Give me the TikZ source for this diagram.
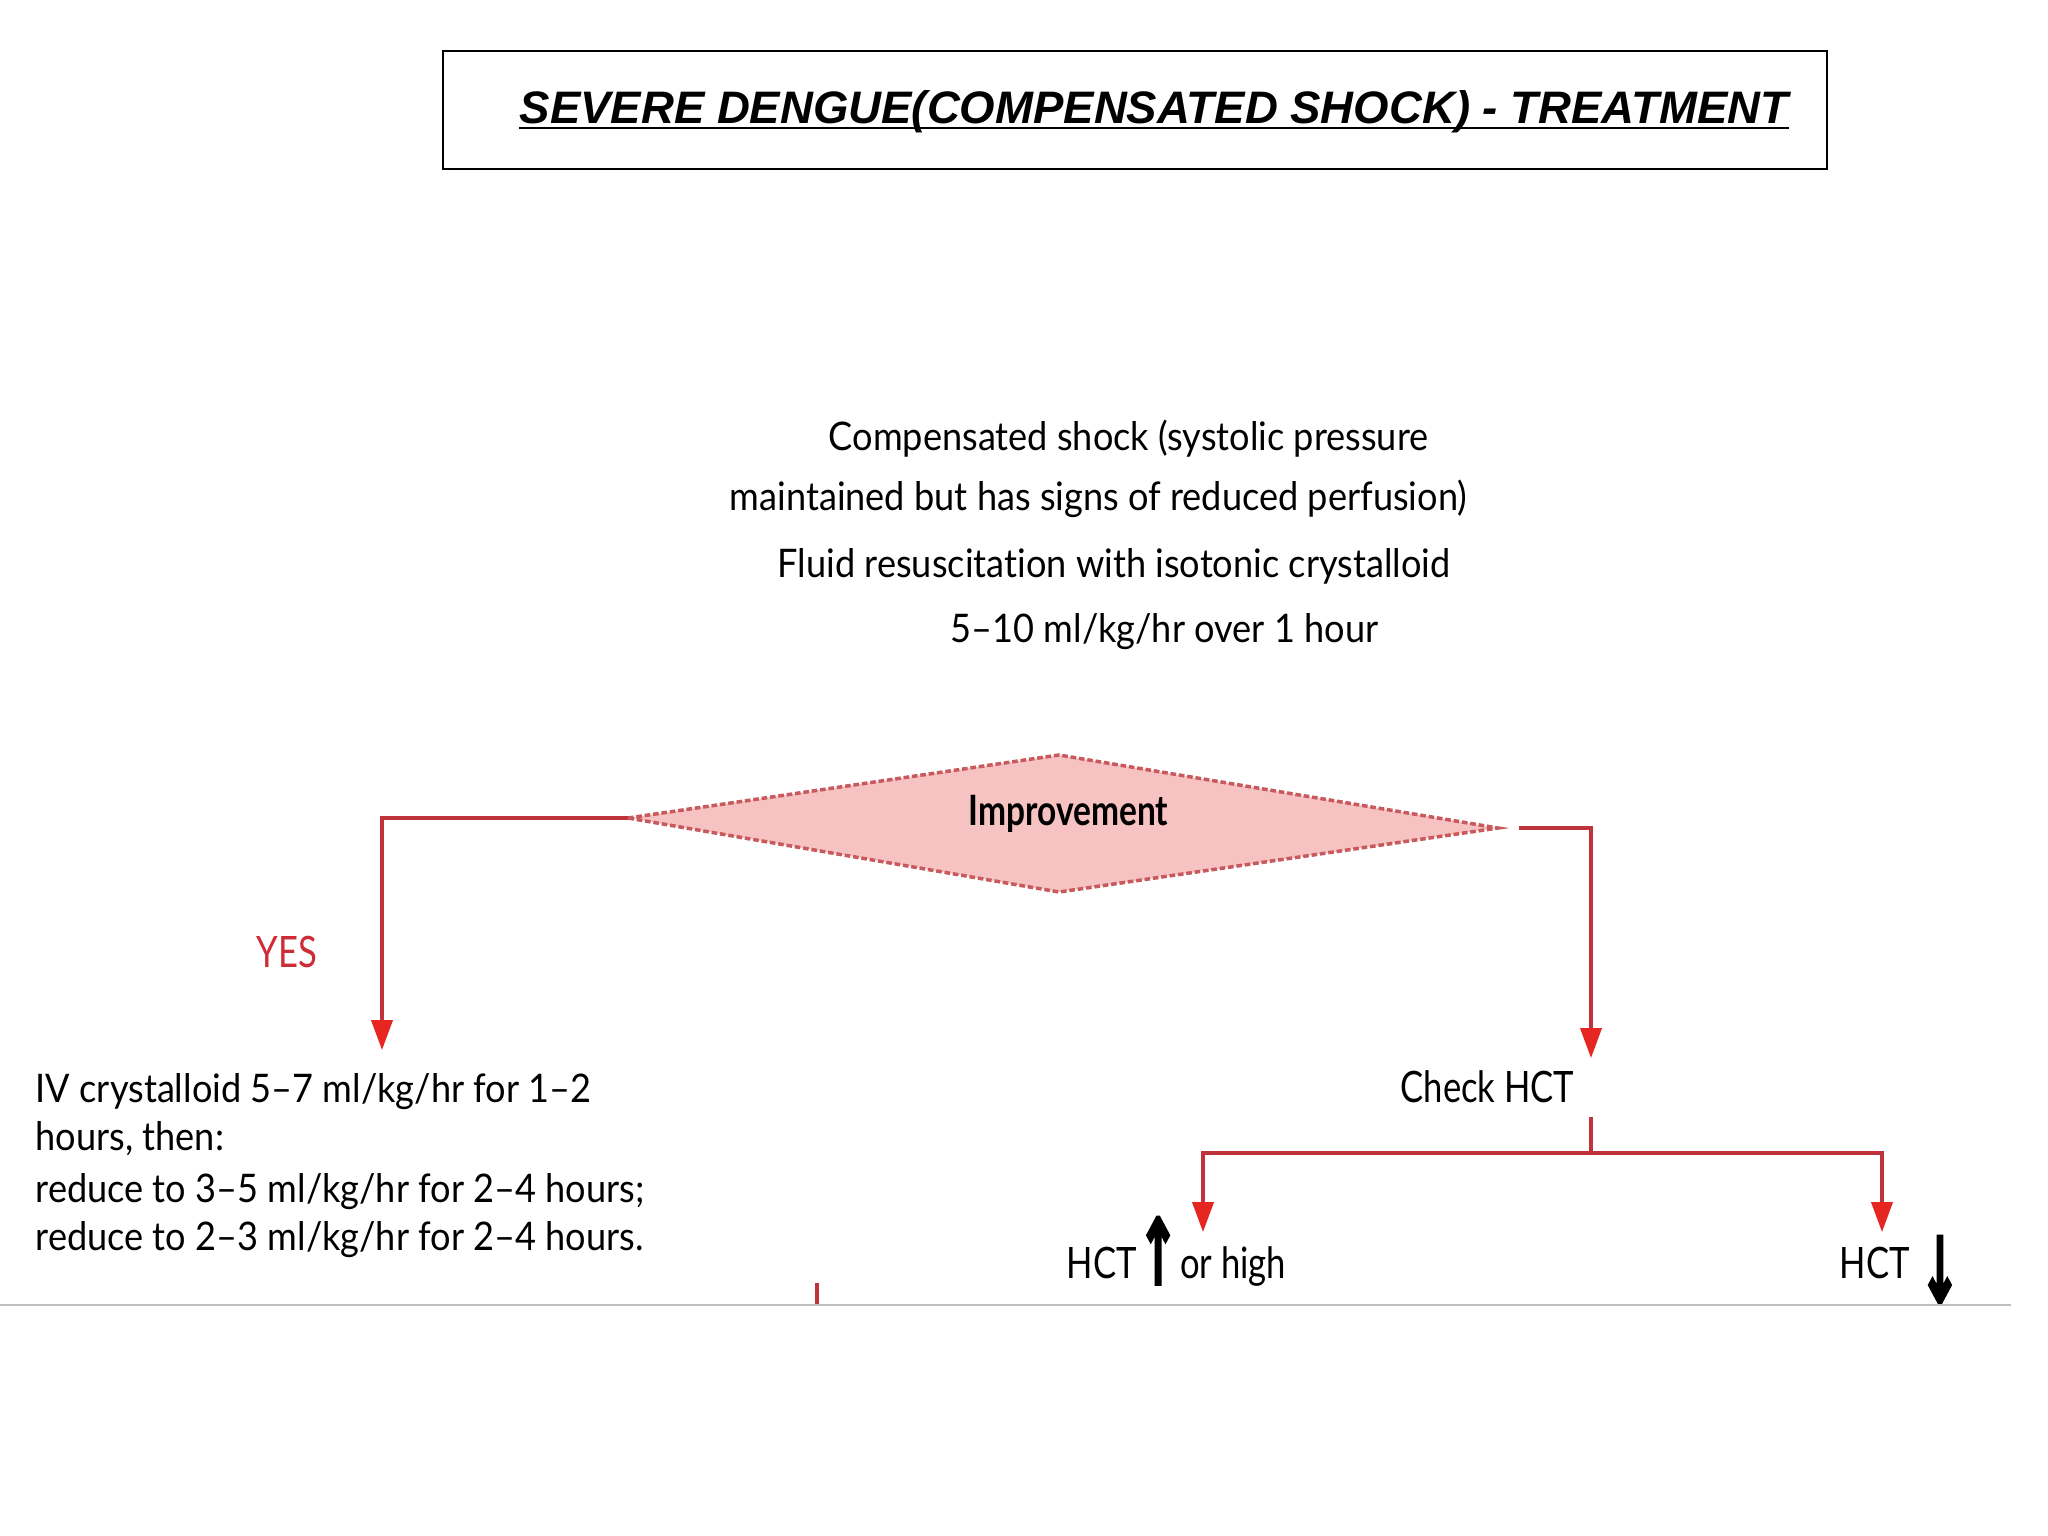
\documentclass[tikz,border=0pt]{standalone}
\usepackage{fontspec}
\usepackage{graphicx}
\usetikzlibrary{arrows.meta}
\setmainfont{Lato}
\newfontfamily\titlefont{Liberation Sans}
\newfontfamily\fut[FakeStretch=0.918,Ligatures=NoCommon]{Lato}
\newfontfamily\futc[FakeStretch=0.80,Ligatures=NoCommon]{Lato}
\newfontfamily\futb[FakeStretch=0.80,Ligatures=NoCommon]{Lato Bold}
\newfontfamily\symb[FakeBold=6]{DejaVu Sans}
\definecolor{lnred}{RGB}{190,52,58}
\definecolor{tipred}{RGB}{229,38,33}
\definecolor{yesred}{RGB}{205,45,55}
\definecolor{dfill}{RGB}{247,194,194}
\definecolor{dedge}{RGB}{200,90,94}
\definecolor{sepgray}{RGB}{192,192,192}
\tikzset{
  txt/.style={inner sep=0pt, anchor=base west, font=\fut\fontsize{11.2pt}{13pt}\selectfont},
  bigtxt/.style={inner sep=0pt, anchor=base west, font=\futc\fontsize{12.3pt}{14pt}\selectfont},
  redline/.style={draw=lnred, line width=0.95pt},
  conn/.style={redline, -{Triangle[length=8.5pt,width=6pt,color=tipred]}},
  diam/.style={fill=dfill, draw=dedge, line width=1pt, dash pattern=on 1.6pt off 0.8pt},
}
\begin{document}
\begin{tikzpicture}[x=0.01cm,y=-0.01cm]
\useasboundingbox[fill=white] (0,0) rectangle (2048,1536);

% title
\node[draw=black, line width=0.6pt, minimum width=13.84cm, minimum height=1.18cm, inner sep=0pt] (tbox) at (1135,110) {};
\node[inner sep=0pt, anchor=base west, font=\titlefont\bfseries\itshape\fontsize{12.95pt}{15pt}\selectfont] (ttl) at (519,123) {SEVERE DENGUE(COMPENSATED SHOCK) - TREATMENT};
\draw[line width=0.75pt] ([yshift=-0.05cm]ttl.base west) -- ([yshift=-0.05cm]ttl.base east);

% top text
\node[txt] (t1) at (828,450) {Compensated shock (systolic pressure};
\node[txt] (t2) at (729,510) {maintained but has signs of reduced perfusion)};
\node[txt] (t3) at (777,577) {Fluid resuscitation with isotonic crystalloid};
\node[txt] (t4) at (950,642) {5–10 ml/kg/hr over 1 hour};

% diamond
\coordinate (dl) at (628,818);
\coordinate (dt) at (1059,755);
\coordinate (dr) at (1498,828);
\coordinate (db) at (1059,892);
\draw[diam] (dl) -- (dt) -- (dr) -- (db) -- cycle;
\node[inner sep=0pt, anchor=base west, font=\futb\fontsize{11.9pt}{14pt}\selectfont] (imp) at (968,825) {Improvement};

% YES branch
\node[inner sep=0pt, anchor=base west, text=yesred, font=\futc\fontsize{12.3pt}{14pt}\selectfont] (yes) at (256,967) {YES};
\coordinate (yesend) at (382,1050);
\draw[conn] (dl) -| (yesend);

\node[txt] (l1) at (35,1102) {IV crystalloid 5–7 ml/kg/hr for 1–2};
\node[txt] (l2) at (35,1150) {hours, then:};
\node[txt] (l3) at (35,1202) {reduce to 3–5 ml/kg/hr for 2–4 hours;};
\node[txt] (l4) at (35,1250) {reduce to 2–3 ml/kg/hr for 2–4 hours.};

% NO branch
\coordinate (rs) at (1519,828);
\coordinate (chkin) at (1591,1058);
\draw[conn] (rs) -| (chkin);
\node[bigtxt] (chk) at (1400,1102) {Check HCT};
\coordinate (c1) at (1591,1117);
\coordinate (br) at (1591,1153);
\draw[redline] (c1) -- (br);
\coordinate (hl) at (1203,1232);
\coordinate (hr) at (1882,1232);
\draw[conn] (br) -| (hl);
\draw[conn] (br) -| (hr);

\node[bigtxt] (hup) at (1066,1278) {\makebox[22pt][l]{HCT}\makebox[8pt]{\raisebox{-0.12em}{\scalebox{1.1}[2.05]{\symb ↑}}}\hspace{2.3pt}or high};
\node[bigtxt] (hdn) at (1839,1278) {\makebox[23.5pt][l]{HCT}\makebox[10pt]{\raisebox{-0.55em}{\scalebox{1.1}[2.05]{\symb ↓}}}};

% separator and fragment
\draw[sepgray, line width=0.6pt] (0,1305) -- (2011,1305);
\coordinate (fragtop) at (817,1283);
\coordinate (fragbot) at (817,1304);
\draw[redline] (fragtop) -- (fragbot);
\end{tikzpicture}
\end{document}
